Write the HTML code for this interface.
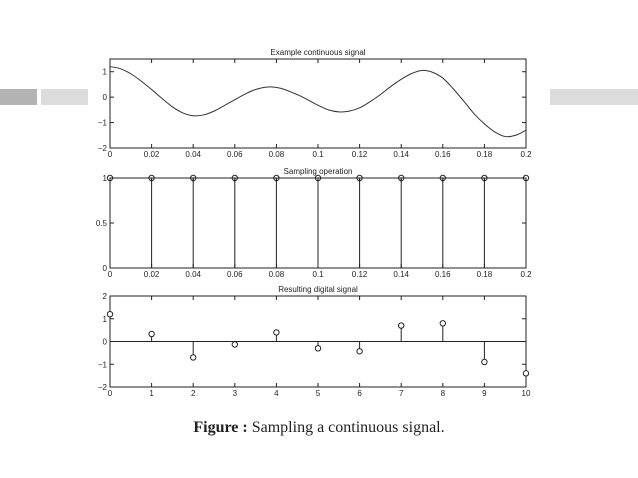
<!DOCTYPE html>
<html><head><meta charset="utf-8"><style>
body{margin:0;width:638px;height:478px;background:#fff;overflow:hidden;position:relative}
svg{position:absolute;left:0;top:0}
text{font-family:"Liberation Sans",sans-serif;font-size:8px;fill:#222}
</style></head><body>
<div style="position:absolute;left:0;top:89px;width:37px;height:16px;background:#b3b3b3"></div>
<div style="position:absolute;left:41px;top:89px;width:47px;height:16px;background:#dcdcdc"></div>
<div style="position:absolute;left:550px;top:89px;width:88px;height:16px;background:#dcdcdc"></div>
<svg id="chart" width="638" height="478"></svg>
<div style="position:absolute;left:0;width:638px;top:419px;text-align:center;font-family:'Liberation Serif',serif;font-size:16px;color:#222"><b>Figure :</b> Sampling a continuous signal.</div>
<script>
const contX=[0,0.005,0.01,0.015,0.02,0.025,0.03,0.035,0.04,0.045,0.05,0.055,0.06,0.065,0.07,0.076,0.082,0.09,0.095,0.1,0.105,0.11,0.115,0.12,0.125,0.13,0.135,0.14,0.145,0.15,0.155,0.16,0.165,0.17,0.175,0.18,0.185,0.19,0.195,0.2];
const contY=[1.2,1.12,0.92,0.63,0.3,-0.05,-0.38,-0.62,-0.73,-0.7,-0.55,-0.33,-0.1,0.12,0.3,0.4,0.35,0.1,-0.1,-0.32,-0.5,-0.58,-0.55,-0.42,-0.18,0.1,0.42,0.7,0.93,1.05,0.98,0.75,0.33,-0.15,-0.65,-1.05,-1.37,-1.55,-1.5,-1.3];
const sampleX=[0,0.02,0.04,0.06,0.08,0.1,0.12,0.14,0.16,0.18,0.2];
const sampleY=[1,1,1,1,1,1,1,1,1,1,1];
const digitalN=[0,1,2,3,4,5,6,7,8,9,10];
const digitalY=[1.2,0.33,-0.7,-0.13,0.4,-0.3,-0.43,0.7,0.8,-0.9,-1.4];
const tickX1=["0","0.02","0.04","0.06","0.08","0.1","0.12","0.14","0.16","0.18","0.2"];
const tickY1=[1,0,-1,-2];
const tickY2=[0,0.5,1];
const tickY3=[2,1,0,-1,-2];
const tickX3=["0","1","2","3","4","5","6","7","8","9","10"];

const svg=document.getElementById('chart');
const NS='http://www.w3.org/2000/svg';
function mk(tag,attrs,parent){const e=document.createElementNS(NS,tag);for(const k in attrs)e.setAttribute(k,attrs[k]);(parent||svg).appendChild(e);return e;}
const X0=110,X1=526;
function panel(name,top,bottom,ymin,ymax,xmin,xmax,title,xt,yt,ylabels){
  const sx=v=>X0+(v-xmin)/(xmax-xmin)*(X1-X0);
  const sy=v=>bottom-(v-ymin)/(ymax-ymin)*(bottom-top);
  const g=mk('g',{});
  
  
  const r=mk('rect',{x:X0,y:top,width:X1-X0,height:bottom-top,fill:'none',stroke:'#222','stroke-width':1},g);
  
  
  const t=mk('text',{x:(X0+X1)/2,y:top-4,'text-anchor':'middle'},g);t.textContent=title;
  
  
  xt.forEach((lab,i)=>{const v=xmin+i*(xmax-xmin)/(xt.length-1);const x=sx(v);
    mk('line',{x1:x,x2:x,y1:bottom,y2:bottom-4,stroke:'#222'},g);mk('line',{x1:x,x2:x,y1:top,y2:top+4,stroke:'#222'},g);
    const tx=mk('text',{x:x,y:bottom+9,'text-anchor':'middle'},g);tx.textContent=lab;
    
    });
  yt.forEach((v,i)=>{const y=sy(v);
    mk('line',{x1:X0,x2:X0+4,y1:y,y2:y,stroke:'#222'},g);mk('line',{x1:X1,x2:X1-4,y1:y,y2:y,stroke:'#222'},g);
    const ty=mk('text',{x:X0-3,y:y+3,'text-anchor':'end'},g);ty.textContent=ylabels[i];
    
    });
  return {g,sx,sy};
}
const p1=panel('continuous-panel',59,148,-2,1.5,0,0.2,'Example continuous signal',tickX1,tickY1,tickY1.map(v=>v<0?'\u2212'+(-v):String(v)));
const pts=contX.map((x,i)=>[p1.sx(x),p1.sy(contY[i])]);
let d='M'+pts[0][0]+','+pts[0][1];
for(let i=0;i<pts.length-1;i++){const p0=pts[Math.max(0,i-1)],a=pts[i],b=pts[i+1],p3=pts[Math.min(pts.length-1,i+2)];
  d+=` C${a[0]+(b[0]-p0[0])/6},${a[1]+(b[1]-p0[1])/6} ${b[0]-(p3[0]-a[0])/6},${b[1]-(p3[1]-a[1])/6} ${b[0]},${b[1]}`;}
const cl=mk('path',{d:d,fill:'none',stroke:'#333','stroke-width':1},p1.g);


const p2=panel('sampling-panel',178,268,0,1,0,0.2,'Sampling operation',tickX1,tickY2,['0','0.5','1']);
sampleX.forEach((x,i)=>{const cx=p2.sx(x),cy=p2.sy(sampleY[i]);
  const s=mk('line',{x1:cx,x2:cx,y1:p2.sy(0),y2:cy,stroke:'#222'},p2.g);
  
  
  const c=mk('circle',{cx:cx,cy:cy,r:2.7,fill:'none',stroke:'#222'},p2.g);
  
  });
const p3=panel('digital-panel',296,387,-2,2,0,10,'Resulting digital signal',tickX3,tickY3,tickY3.map(v=>v<0?'\u2212'+(-v):String(v)));
mk('line',{x1:X0,x2:X1,y1:p3.sy(0),y2:p3.sy(0),stroke:'#222'},p3.g);
digitalN.forEach((n,i)=>{const cx=p3.sx(n),cy=p3.sy(digitalY[i]);
  const s=mk('line',{x1:cx,x2:cx,y1:p3.sy(0),y2:cy,stroke:'#222'},p3.g);
  
  
  const c=mk('circle',{cx:cx,cy:cy,r:2.7,fill:'#fff',stroke:'#222'},p3.g);
  
  });
</script>
</body></html>
